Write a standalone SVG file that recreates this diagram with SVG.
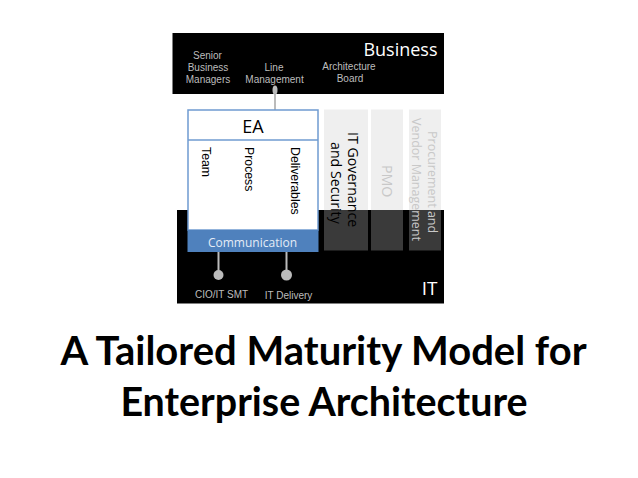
<svg xmlns="http://www.w3.org/2000/svg" width="638" height="478" viewBox="0 0 638 478">
<style>
.a{font-family:"Liberation Sans",Arial,sans-serif;font-size:10px;fill:#bdbdbd;text-anchor:middle}
.c{font-family:"Open Sans",sans-serif}
.r{font-family:"Liberation Sans",Arial,sans-serif;font-size:12.300px;fill:#000}
.t{font-family:Lato,"Open Sans",sans-serif;font-size:40px;font-weight:700;fill:#000;text-anchor:middle}
.l{fill:#efefef}.d{fill:#3a3a3a}
.w{font-family:"Open Sans",sans-serif;fill:#fff;text-anchor:end;font-size:18px}
.v{font-family:"Open Sans",sans-serif;font-size:14.200px}
.p{font-family:"Open Sans",sans-serif;font-size:12.500px;fill:#c8c8c8}
</style>
<rect width="638" height="478" fill="#fff"/>
<g id="business">
<rect x="172.500" y="33" width="271.500" height="61" fill="#000"/>
<text class="w" x="437.500" y="56">Business</text>
<text class="a"><tspan x="207.500" y="59">Senior</tspan><tspan x="208" y="71">Business</tspan><tspan x="208" y="83">Managers</tspan></text>
<text class="a"><tspan x="274" y="71">Line</tspan><tspan x="274.500" y="83">Management</tspan></text>
<text class="a"><tspan x="349" y="70">Architecture</tspan><tspan x="350" y="82">Board</tspan></text>
</g>
<g id="it">
<rect x="177" y="210" width="267" height="93.500" fill="#000"/>
<text class="w" x="437.500" y="295" style="font-size:19px">IT</text>
<text class="a" x="221.500" y="298">CIO/IT SMT</text>
<text class="a" x="288.500" y="299">IT Delivery</text>
</g>
<g id="governance">
<rect class="l" x="324" y="109.500" width="44" height="100.500"/><rect class="d" x="324" y="210" width="44" height="40.500"/>
<text class="v" fill="#000" transform="translate(347.500 132) rotate(90)">IT Governance</text>
<text class="v" fill="#000" transform="translate(331 142) rotate(90)">and Security</text>
</g>
<g id="pmo">
<rect class="l" x="371" y="109.500" width="32" height="100.500"/><rect class="d" x="371" y="210" width="32" height="40.500"/>
<text class="v" fill="#c8c8c8" transform="translate(382 165) rotate(90)">PMO</text>
</g>
<g id="procurement">
<rect class="l" x="409" y="109.500" width="32" height="100.500"/><rect class="d" x="409" y="210" width="32" height="40.500"/>
<text class="p" transform="translate(428 131) rotate(90)">Procurement and</text>
<text class="p" transform="translate(411.500 118) rotate(90)">Vendor Management</text>
</g>
<g id="connectors" stroke="#bbb" stroke-width="2" fill="#bbb">
<line x1="275" y1="90" x2="275" y2="110"/>
<ellipse cx="275" cy="90" rx="2.500" ry="4.500" stroke="none"/>
<line x1="218.500" y1="252" x2="218.500" y2="275"/>
<circle cx="218.500" cy="275" r="5" stroke="none"/>
<line x1="286.500" y1="252" x2="286.500" y2="275"/>
<circle cx="286.500" cy="275" r="5.500" stroke="none"/>
</g>
<g id="ea">
<rect x="188" y="110" width="130" height="120" fill="#fff" stroke="#6f9bd1" stroke-width="1.500"/>
<line x1="188" y1="140" x2="318" y2="140" stroke="#6f9bd1" stroke-width="1.500"/>
<text x="253" y="133" class="c" font-size="18" fill="#000" text-anchor="middle">EA</text>
<text class="r" transform="translate(201.500 147) rotate(90)">Team</text>
<text class="r" transform="translate(245 147) rotate(90)">Process</text>
<text class="r" transform="translate(291 147) rotate(90)">Deliverables</text>
</g>
<g id="communication">
<rect x="187.500" y="230" width="131" height="22" fill="#4f81bd"/>
<text x="252.500" y="247" class="c" font-size="12" fill="#e4ecf6" text-anchor="middle">Communication</text>
</g>
<g id="title">
<text class="t" x="323.500" y="365">A Tailored Maturity Model for</text>
<text class="t" x="324" y="416" style="font-size:39.400px">Enterprise Architecture</text>
</g>
</svg>
